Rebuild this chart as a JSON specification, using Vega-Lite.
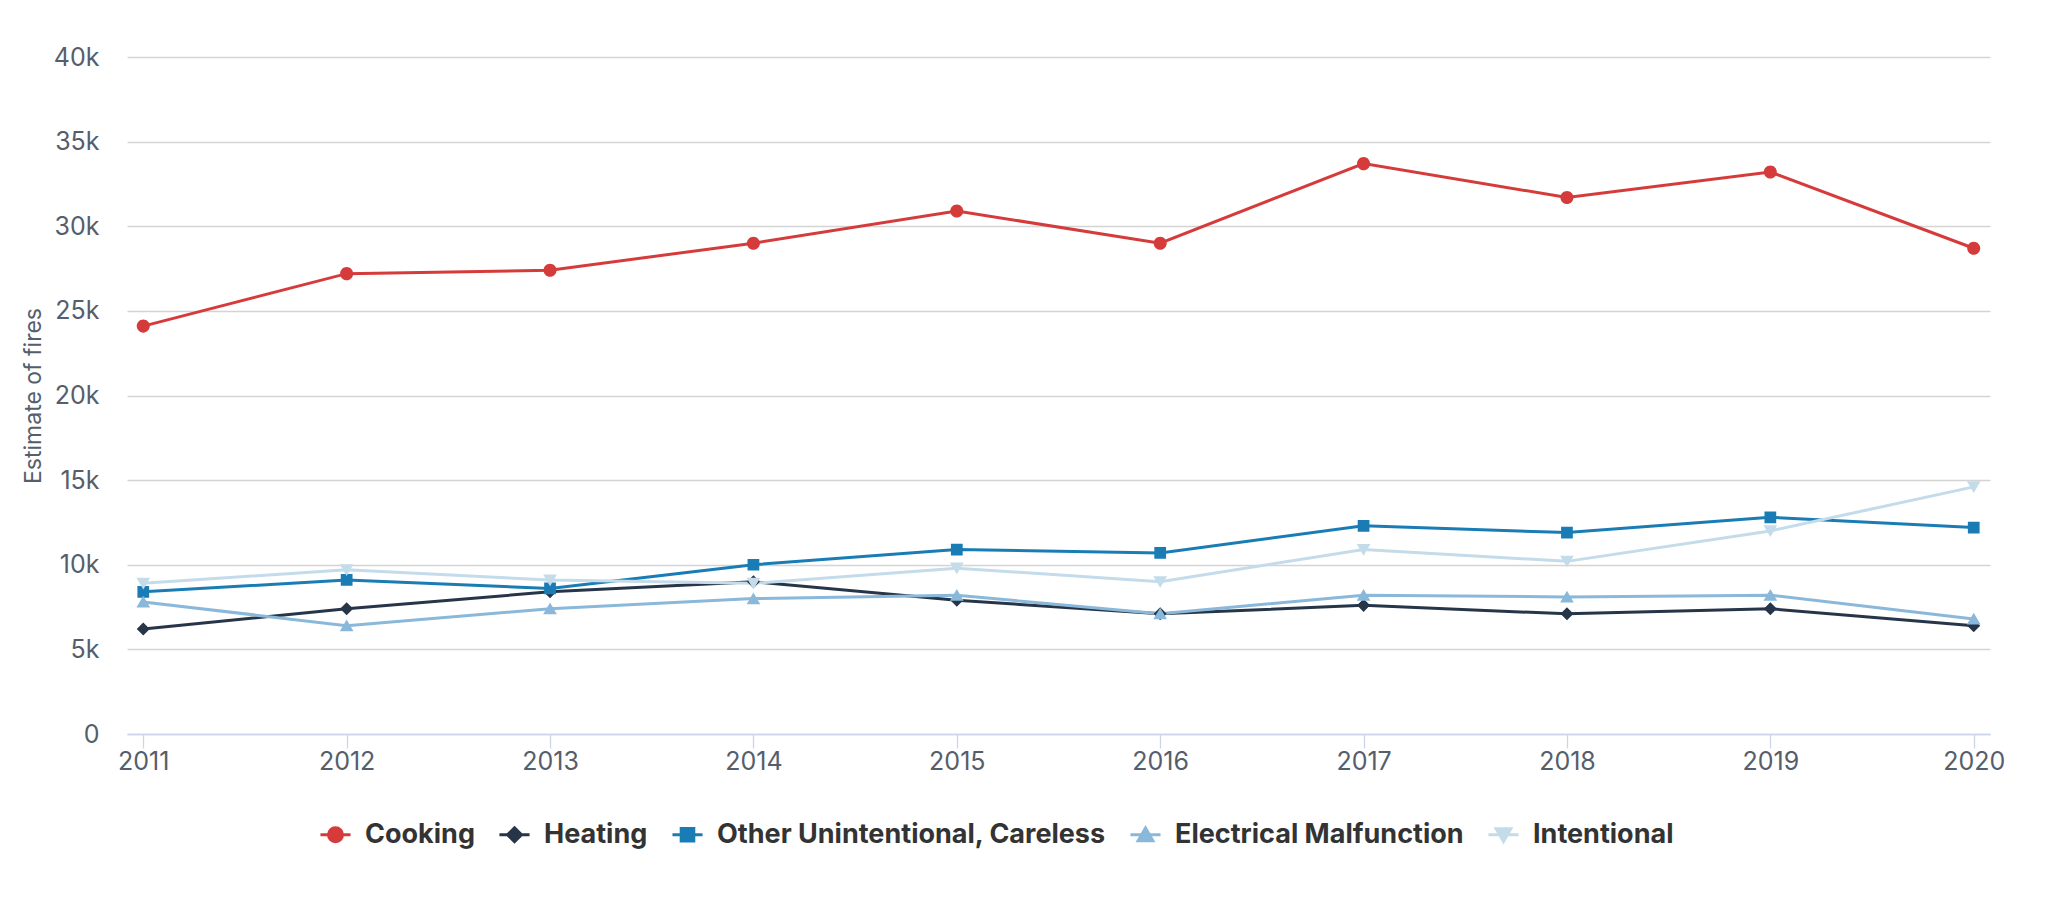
{
  "$schema": "https://vega.github.io/schema/vega-lite/v6.json",
  "width": 1863,
  "height": 677,
  "autosize": {"type": "none"},
  "padding": {"left": 127, "top": 57, "right": 58, "bottom": 168},
  "background": "white",
  "config": {
    "font": "Inter",
    "view": {"stroke": null},
    "axis": {"labelFont": "Inter", "titleFont": "Inter"}
  },
  "data": {
    "values": [
      {"year": 2011, "cause": "Cooking", "fires": 24100},
      {"year": 2012, "cause": "Cooking", "fires": 27200},
      {"year": 2013, "cause": "Cooking", "fires": 27400},
      {"year": 2014, "cause": "Cooking", "fires": 29000},
      {"year": 2015, "cause": "Cooking", "fires": 30900},
      {"year": 2016, "cause": "Cooking", "fires": 29000},
      {"year": 2017, "cause": "Cooking", "fires": 33700},
      {"year": 2018, "cause": "Cooking", "fires": 31700},
      {"year": 2019, "cause": "Cooking", "fires": 33200},
      {"year": 2020, "cause": "Cooking", "fires": 28700},
      {"year": 2011, "cause": "Heating", "fires": 6200},
      {"year": 2012, "cause": "Heating", "fires": 7400},
      {"year": 2013, "cause": "Heating", "fires": 8400},
      {"year": 2014, "cause": "Heating", "fires": 9000},
      {"year": 2015, "cause": "Heating", "fires": 7900},
      {"year": 2016, "cause": "Heating", "fires": 7100},
      {"year": 2017, "cause": "Heating", "fires": 7600},
      {"year": 2018, "cause": "Heating", "fires": 7100},
      {"year": 2019, "cause": "Heating", "fires": 7400},
      {"year": 2020, "cause": "Heating", "fires": 6400},
      {"year": 2011, "cause": "Other Unintentional, Careless", "fires": 8400},
      {"year": 2012, "cause": "Other Unintentional, Careless", "fires": 9100},
      {"year": 2013, "cause": "Other Unintentional, Careless", "fires": 8600},
      {"year": 2014, "cause": "Other Unintentional, Careless", "fires": 10000},
      {"year": 2015, "cause": "Other Unintentional, Careless", "fires": 10900},
      {"year": 2016, "cause": "Other Unintentional, Careless", "fires": 10700},
      {"year": 2017, "cause": "Other Unintentional, Careless", "fires": 12300},
      {"year": 2018, "cause": "Other Unintentional, Careless", "fires": 11900},
      {"year": 2019, "cause": "Other Unintentional, Careless", "fires": 12800},
      {"year": 2020, "cause": "Other Unintentional, Careless", "fires": 12200},
      {"year": 2011, "cause": "Electrical Malfunction", "fires": 7800},
      {"year": 2012, "cause": "Electrical Malfunction", "fires": 6400},
      {"year": 2013, "cause": "Electrical Malfunction", "fires": 7400},
      {"year": 2014, "cause": "Electrical Malfunction", "fires": 8000},
      {"year": 2015, "cause": "Electrical Malfunction", "fires": 8200},
      {"year": 2016, "cause": "Electrical Malfunction", "fires": 7100},
      {"year": 2017, "cause": "Electrical Malfunction", "fires": 8200},
      {"year": 2018, "cause": "Electrical Malfunction", "fires": 8100},
      {"year": 2019, "cause": "Electrical Malfunction", "fires": 8200},
      {"year": 2020, "cause": "Electrical Malfunction", "fires": 6800},
      {"year": 2011, "cause": "Intentional", "fires": 8900},
      {"year": 2012, "cause": "Intentional", "fires": 9700},
      {"year": 2013, "cause": "Intentional", "fires": 9100},
      {"year": 2014, "cause": "Intentional", "fires": 8900},
      {"year": 2015, "cause": "Intentional", "fires": 9800},
      {"year": 2016, "cause": "Intentional", "fires": 9000},
      {"year": 2017, "cause": "Intentional", "fires": 10900},
      {"year": 2018, "cause": "Intentional", "fires": 10200},
      {"year": 2019, "cause": "Intentional", "fires": 12000},
      {"year": 2020, "cause": "Intentional", "fires": 14600}
    ]
  },
  "encoding": {
    "x": {
      "field": "year",
      "type": "ordinal",
      "scale": {"type": "point", "padding": 0.08},
      "axis": {
        "title": null,
        "labelAngle": 0,
        "labelFontSize": 25,
        "labelColor": "#555e6b",
        "labelPadding": 1,
        "domainColor": "#ccd6eb",
        "domainWidth": 1.3,
        "tickColor": "#ccd6eb",
        "tickWidth": 1.3,
        "tickSize": 14,
        "grid": false
      }
    },
    "y": {
      "field": "fires",
      "type": "quantitative",
      "scale": {"domain": [0, 40000], "nice": false},
      "axis": {
        "title": "Estimate of fires",
        "titleFontSize": 23,
        "titleFontWeight": "normal",
        "titleColor": "#555e6b",
        "titlePadding": 8,
        "values": [0, 5000, 10000, 15000, 20000, 25000, 30000, 35000, 40000],
        "labelExpr": "datum.value === 0 ? '0' : (datum.value / 1000) + 'k'",
        "labelFontSize": 25,
        "labelColor": "#555e6b",
        "labelPadding": 28,
        "domain": false,
        "ticks": false,
        "grid": true,
        "gridColor": "#d4d4d4",
        "gridWidth": 1.3
      }
    },
    "color": {
      "field": "cause",
      "type": "nominal",
      "scale": {
        "domain": ["Cooking", "Heating", "Other Unintentional, Careless", "Electrical Malfunction", "Intentional"],
        "range": ["#d63b3b", "#263548", "#1a7cb4", "#8ab8da", "#c4dbea"]
      },
      "legend": {
        "title": null,
        "orient": "none",
        "legendX": 195,
        "legendY": 764,
        "direction": "horizontal",
        "labelFontSize": 27,
        "labelFontWeight": "bold",
        "labelColor": "#333333",
        "labelLimit": 800,
        "labelOffset": 16,
        "columnPadding": 18,
        "symbolSize": 196,
        "symbolStrokeWidth": 3
      }
    }
  },
  "layer": [
    {
      "mark": {"type": "line", "strokeWidth": 3}
    },
    {
      "mark": {"type": "point", "filled": true, "size": 170, "opacity": 1},
      "encoding": {
        "shape": {
          "field": "cause",
          "type": "nominal",
          "scale": {
            "domain": ["Cooking", "Heating", "Other Unintentional, Careless", "Electrical Malfunction", "Intentional"],
            "range": [
              "M-2.15,0H2.15M-1,0A1,1,0,1,1,1,0A1,1,0,1,1,-1,0Z",
              "M-2.15,0H2.15M0,-1L1,0L0,1L-1,0Z",
              "M-2.15,0H2.15M-0.9,-0.9H0.9V0.9H-0.9Z",
              "M-2.15,0H2.15M0,-0.95L1.05,0.85H-1.05Z",
              "M-2.15,0H2.15M0,0.95L1.05,-0.85H-1.05Z"
            ]
          },
          "legend": null
        }
      }
    }
  ]
}
